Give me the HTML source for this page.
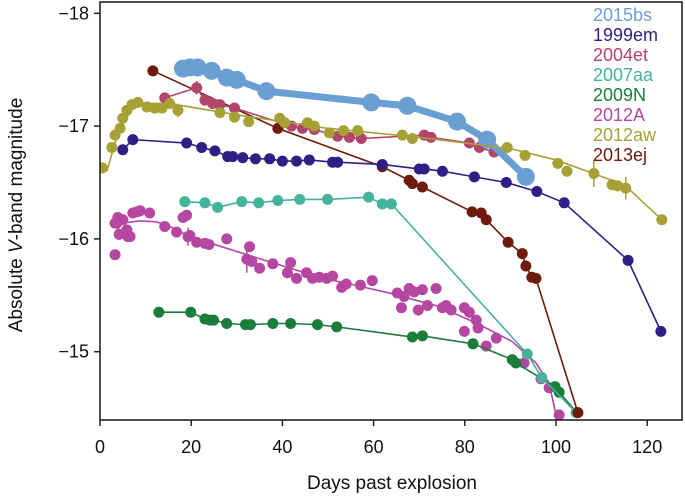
<!DOCTYPE html>
<html><head><meta charset="utf-8"><style>
body{margin:0;background:#fff;}
svg{display:block;font-family:"Liberation Sans",Arial,sans-serif;}
</style></head><body>
<svg id="chart" width="685" height="496"></svg>
<script>
const xTicks=[0,20,40,60,80,100,120];
const yTicks=[-18,-17,-16,-15];
const names=["2015bs","1999em","2004et","2007aa","2009N","2012A","2012aw","2013ej"];
const colors=["#6a9fd4","#2e1f84","#b2456b","#45b39c","#1b7d3a","#b547a3","#a6a035","#6e1a0c"];
const d2015bs=[[18.2,-17.51],[19.7,-17.52],[21.4,-17.52],[24.5,-17.49],[27.8,-17.43],[30.0,-17.41],[36.5,-17.31],[59.5,-17.21],[67.4,-17.18],[78.3,-17.04],[84.9,-16.88],[93.4,-16.55]];
const d1999em=[[5.0,-16.79],[7.2,-16.88],[19.0,-16.85],[22.3,-16.81],[25.2,-16.78],[28.0,-16.73],[29.1,-16.73],[31.3,-16.72],[34.1,-16.71],[37.2,-16.71],[40.0,-16.69],[43.1,-16.69],[45.9,-16.70],[51.0,-16.68],[52.1,-16.68],[61.9,-16.66],[70.0,-16.62],[71.1,-16.62],[75.1,-16.60],[82.1,-16.55],[89.1,-16.50],[95.8,-16.42],[101.8,-16.32],[115.8,-15.81],[123.0,-15.18]];
const d2004et=[[14.2,-17.25],[21.2,-17.34],[23.0,-17.23],[24.7,-17.20],[26.3,-17.19],[29.5,-17.16],[42.0,-17.00],[44.4,-16.98],[47.0,-16.97],[52.1,-16.91],[54.7,-16.90],[57.3,-16.89],[71.1,-16.92],[72.6,-16.90],[81.0,-16.85],[83.2,-16.81],[86.4,-16.77]];
const d2007aa=[[18.6,-16.33],[23.0,-16.32],[25.8,-16.28],[31.1,-16.33],[34.8,-16.32],[39.0,-16.34],[43.8,-16.35],[49.9,-16.35],[58.9,-16.37],[61.9,-16.31],[63.9,-16.31],[93.7,-14.98],[96.9,-14.77],[104.4,-14.46]];
const d2009N=[[12.9,-15.35],[19.9,-15.35],[23.0,-15.29],[24.1,-15.28],[24.9,-15.28],[27.8,-15.25],[31.9,-15.24],[33.0,-15.24],[37.9,-15.25],[41.8,-15.25],[47.7,-15.24],[51.9,-15.22],[68.5,-15.13],[70.7,-15.14],[81.8,-15.07],[90.4,-14.93],[91.2,-14.90],[99.8,-14.69],[100.7,-14.64],[104.6,-14.46]];
const d2012A=[[3.3,-16.14],[3.3,-15.86],[3.9,-16.19],[4.2,-16.04],[5.0,-16.17],[5.9,-16.08],[6.1,-16.02],[6.6,-16.02],[7.2,-16.23],[8.1,-16.24],[8.8,-16.25],[10.9,-16.23],[14.2,-16.11],[16.8,-16.06],[18.2,-16.19],[19.0,-16.21],[19.3,-16.02],[19.7,-16.03],[21.2,-15.97],[23.0,-15.96],[23.9,-15.95],[27.8,-16.00],[32.2,-15.82],[32.8,-15.93],[33.3,-15.80],[35.0,-15.74],[37.9,-15.78],[41.1,-15.70],[41.8,-15.79],[43.1,-15.65],[45.3,-15.70],[46.6,-15.65],[48.1,-15.66],[49.7,-15.65],[51.0,-15.67],[53.0,-15.57],[54.0,-15.60],[57.1,-15.59],[59.7,-15.63],[65.2,-15.52],[66.1,-15.39],[66.7,-15.49],[67.8,-15.56],[68.9,-15.53],[69.8,-15.37],[70.7,-15.55],[71.8,-15.41],[73.7,-15.56],[75.1,-15.39],[75.9,-15.41],[77.0,-15.37],[79.9,-15.39],[79.9,-15.18],[81.0,-15.35],[82.5,-15.28],[82.9,-15.21],[84.7,-15.05],[86.9,-15.12],[93.0,-14.90],[96.7,-14.76],[98.5,-14.68],[100.7,-14.44]];
const fit2012A=[[3.3,-16.06],[5.0,-16.14],[8.8,-16.16],[12.5,-16.15],[15.3,-16.11],[19.7,-16.02],[32.2,-15.86],[48.1,-15.66],[63.5,-15.52],[74.4,-15.40],[83.2,-15.24],[90.4,-15.09],[95.6,-14.90],[98.5,-14.72],[100.0,-14.44]];
const d2012aw=[[0.5,-16.63],[2.6,-16.81],[3.3,-16.92],[4.4,-16.98],[5.0,-17.07],[5.9,-17.14],[7.0,-17.19],[8.3,-17.21],[10.3,-17.17],[12.0,-17.16],[13.6,-17.16],[15.3,-17.20],[17.1,-17.14],[26.3,-17.12],[29.5,-17.08],[32.6,-17.04],[39.4,-17.07],[40.5,-17.03],[45.5,-17.03],[47.0,-17.00],[50.3,-16.94],[53.4,-16.96],[56.5,-16.96],[66.3,-16.92],[68.5,-16.89],[89.3,-16.81],[93.2,-16.74],[100.4,-16.67],[102.4,-16.60],[108.3,-16.58],[112.3,-16.48],[113.5,-16.47],[115.3,-16.45],[123.2,-16.17]];
const fit2012aw=[[1.5,-16.6],[4,-16.95],[7,-17.15],[10,-17.2],[15.3,-17.2],[30,-17.1],[50,-16.98],[70,-16.9],[90,-16.8],[100,-16.7],[115,-16.48],[123.2,-16.17]];
const d2013ej=[[11.6,-17.49],[39.0,-16.98],[61.9,-16.64],[67.8,-16.52],[68.5,-16.49],[70.7,-16.46],[81.6,-16.24],[83.6,-16.23],[84.7,-16.17],[89.5,-15.97],[92.6,-15.87],[93.4,-15.76],[94.7,-15.66],[95.6,-15.65],[104.8,-14.46]];
const errs=[[6,108.3,-16.58,0.12],[6,115.3,-16.45,0.1],[5,32.2,-15.82,0.12],[5,19.3,-16.02,0.08],[2,21.2,-17.34,0.06],[6,17.1,-17.14,0.06]];

const NS="http://www.w3.org/2000/svg";
const svg=document.getElementById("chart");
const L=100,R=682,T=2,B=420;
const X=d=>L+d*4.56;
const Y=m=>13.3+(m+18)*112.8;
function el(t,a,p){const e=document.createElementNS(NS,t);for(const k in a)e.setAttribute(k,a[k]);(p||svg).appendChild(e);return e;}
const defs=el("defs",{});const cp=el("clipPath",{id:"pc"},defs);el("rect",{x:L,y:T,width:R-L,height:B-T},cp);
const plot=el("g",{"clip-path":"url(#pc)"});


const sets=[d2015bs,d1999em,d2004et,d2007aa,d2009N,d2012A,d2012aw,d2013ej];
const lineSets=[d2015bs,d1999em,d2004et,d2007aa,d2009N,fit2012A,fit2012aw,d2013ej];
const order=[5,4,3,7,1,2,0,6];
order.forEach(i=>{
  const g=el("g",{},plot);
  
  
  const big=i===0;
  const pl=el("polyline",{points:lineSets[i].map(p=>X(p[0])+","+Y(p[1])).join(" "),fill:"none",stroke:colors[i],"stroke-width":big?7:1.6,"stroke-linejoin":"round"},g);
  
  
  sets[i].forEach(p=>{
    const c=el("circle",{cx:X(p[0]),cy:Y(p[1]),r:big?9:5.5,fill:colors[i]},g);
    
    
  });
});
errs.forEach(e=>{
  const l=el("line",{x1:X(e[1]),x2:X(e[1]),y1:Y(e[2]-e[3]),y2:Y(e[2]+e[3]),stroke:colors[e[0]],"stroke-width":1.5},plot);
  
  
});
const fr=el("rect",{x:L,y:T,width:R-L,height:B-T,fill:"none",stroke:"#222","stroke-width":1.6});


xTicks.forEach(t=>{
  el("line",{x1:X(t),x2:X(t),y1:B,y2:B+6,stroke:"#222","stroke-width":1.5});
  const tx=el("text",{x:X(t),y:B+33,"text-anchor":"middle","font-size":18,fill:"#111"});
  tx.textContent=t;
  
  
});
yTicks.forEach(t=>{
  el("line",{x1:L-6,x2:L,y1:Y(t),y2:Y(t),stroke:"#222","stroke-width":1.5});
  const tx=el("text",{x:L-11,y:Y(t)+6,"text-anchor":"end","font-size":18,fill:"#111"});
  tx.textContent="\u2212"+Math.abs(t);
  
  
});
const xt=el("text",{x:392,y:489,"text-anchor":"middle","font-size":19,fill:"#111"});
xt.textContent="Days past explosion";


const yt=el("text",{x:0,y:0,"text-anchor":"middle","font-size":19,fill:"#111",transform:"translate(22,215) rotate(-90)"});
yt.innerHTML='Absolute <tspan font-style="italic">V</tspan>-band magnitude';


names.forEach((n,i)=>{
  const tx=el("text",{x:593,y:21+i*20,"font-size":18,fill:colors[i]});
  tx.textContent=n;
  
  
});
</script>
</body></html>
